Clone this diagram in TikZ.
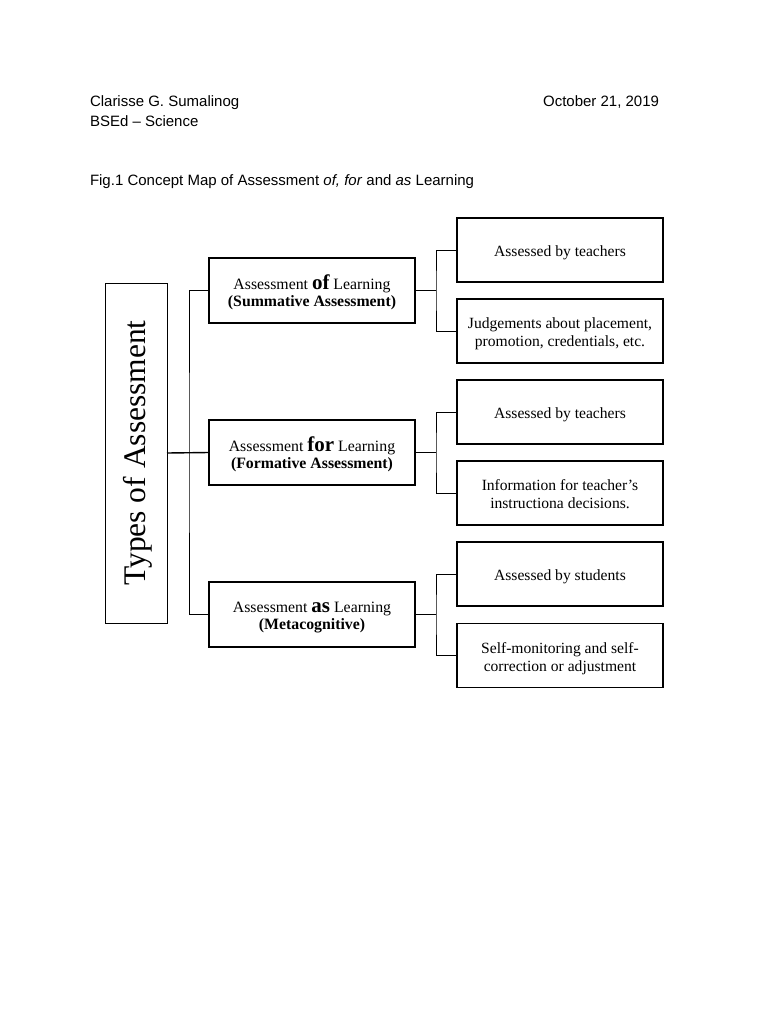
\documentclass[tikz,border=0pt]{standalone}
\usepackage{fontspec}
\setmainfont{Liberation Serif}
\newfontfamily\hdr{Liberation Sans}
\newcommand{\boxtxt}[1]{\raisebox{-3pt}[\height][\depth]{\setlength{\tabcolsep}{0pt}\begin{tabular}{c}#1\end{tabular}}}
\begin{document}
\begin{tikzpicture}[x=1pt,y=-1pt,
  every node/.style={inner sep=0pt,outer sep=0pt},
  hdrtext/.style={font=\hdr\fontsize{15}{18}\selectfont, anchor=base west},
  midbox/.style={draw, line width=1.1pt, minimum width=206pt, minimum height=65pt, font=\fontsize{15.8}{18.5}\selectfont},
  rbox/.style={draw, line width=1.1pt, minimum width=206pt, minimum height=64pt, font=\fontsize{15.6}{18}\selectfont},
  conn/.style={line width=0.7pt},
  mainconn/.style={line width=1.4pt}]
\useasboundingbox (0,0) rectangle (768,1024);
\fill[white] (0,0) rectangle (768,1024);
% header
\node[hdrtext] (name) at (90,107) {Clarisse G. Sumalinog};
\node[hdrtext] (course) at (90,127) {BSEd \textendash{} Science};
\node[hdrtext, anchor=base east] (date) at (659,107) {October 21, 2019};
\node[hdrtext] (fig) at (90,186) {Fig.1 Concept Map of Assessment \textit{of, for} and \textit{as} Learning};
% main box
\node[draw, line width=0.8pt, minimum width=62pt, minimum height=340pt] (types) at (136,453) {};
\node[rotate=90, font=\fontsize{31.5}{36}\selectfont] (typestext) at (138,453) {Types of Assessment};
% middle boxes
\node[midbox] (m1) at (312,290.5) {\boxtxt{Assessment {\fontsize{21}{18}\selectfont\bfseries of} Learning\\[-2pt]\textbf{(Summative Assessment)}}};
\node[midbox] (m2) at (312,452.5) {\boxtxt{Assessment {\fontsize{21}{18}\selectfont\bfseries for} Learning\\[-2pt]\textbf{(Formative Assessment)}}};
\node[midbox] (m3) at (312,614.5) {\boxtxt{Assessment {\fontsize{21}{18}\selectfont\bfseries as} Learning\\[-2pt]\textbf{(Metacognitive)}}};
% right boxes
\node[rbox] (r1) at (560,250) {\boxtxt{Assessed by teachers}};
\node[rbox] (r2) at (560,331) {\boxtxt{Judgements about placement,\\promotion, credentials, etc.}};
\node[rbox] (r3) at (560,412) {\boxtxt{Assessed by teachers}};
\node[rbox] (r4) at (560,493) {\boxtxt{Information for teacher's\\instructiona decisions.}};
\node[rbox] (r5) at (560,574) {\boxtxt{Assessed by students}};
\node[rbox] (r6) at (560,655.5) {\boxtxt{Self-monitoring and self-\\correction or adjustment}};
% connectors from types
\coordinate (j0) at (189,453);
\draw[mainconn] (types.east) -- (m2.west);
\draw[conn] (m1.west) -| (j0) |- (m3.west);
% connectors from middle boxes
\foreach \m/\a/\b in {m1/r1/r2, m3/r5/r6} {
  \draw[conn] (\m.east) -- ++(21,0) coordinate (c\m);
  \draw[conn] (\a.west) -| (c\m) |- (\b.west);
}
\draw[mainconn] (m2.east) -- ++(21,0) coordinate (cm2);
\draw[conn] (r3.west) -| (cm2) |- (r4.west);
\end{tikzpicture}
\end{document}
